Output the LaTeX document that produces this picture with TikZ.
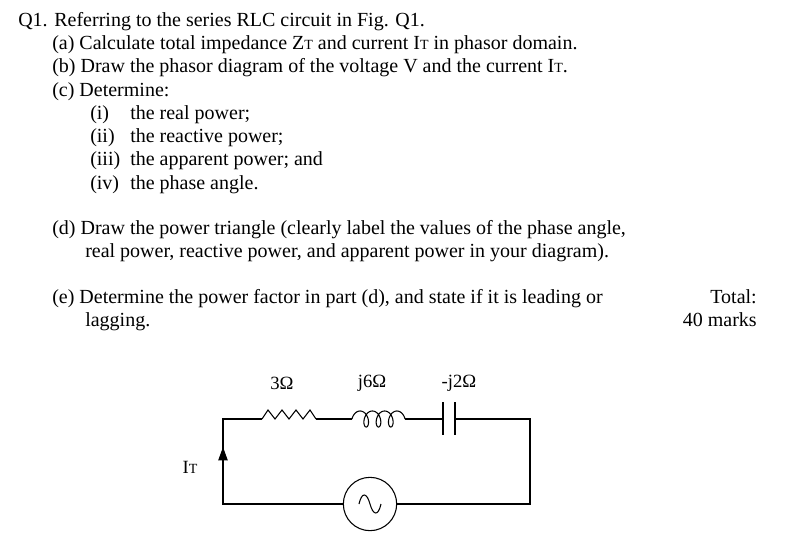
\documentclass[tikz,border=0pt]{standalone}
\usepackage{fontspec}
\setmainfont{Liberation Serif}
\usetikzlibrary{arrows.meta}
\newcommand{\sT}{{\fontsize{10.5}{10}\selectfont T}}
\begin{document}
\begin{tikzpicture}[x=0.75pt,y=-0.75pt,
  txt/.style={anchor=base west,inner sep=0pt,font=\fontsize{15}{17}\selectfont},
  txr/.style={anchor=base east,inner sep=0pt,font=\fontsize{15}{17}\selectfont},
  lab/.style={inner sep=0pt,font=\fontsize{14}{16}\selectfont},
  wire/.style={line width=0.8pt}]
\useasboundingbox (0,0) rectangle (791,535);
\node[txt] (l1) at (18,27) {Q1. Referring to the series RLC circuit in Fig. Q1.};
\node[txt] (l2) at (52,50) {(a) Calculate total impedance Z\sT{} and current I\sT{} in phasor domain.};
\node[txt] (l3) at (52,73) {(b) Draw the phasor diagram of the voltage V and the current I\sT.};
\node[txt] (l4) at (52,96) {(c) Determine:};
\node[txt] (i1) at (90,119) {(i)};   \node[txt] (t1) at (130,119) {the real power;};
\node[txt] (i2) at (90,142) {(ii)};  \node[txt] (t2) at (130,142) {the reactive power;};
\node[txt] (i3) at (90,165) {(iii)}; \node[txt] (t3) at (130,165) {the apparent power; and};
\node[txt] (i4) at (90,189) {(iv)};  \node[txt] (t4) at (130,189) {the phase angle.};
\node[txt] (d1) at (52,234) {(d) Draw the power triangle (clearly label the values of the phase angle,};
\node[txt] (d2) at (85,257) {real power, reactive power, and apparent power in your diagram).};
\node[txt] (e1) at (52,303) {(e) Determine the power factor in part (d), and state if it is leading or};
\node[txt] (e2) at (85,326) {lagging.};
\node[txr] (tot) at (757,303) {Total:};
\node[txr] (mk) at (757,326) {40 marks};
% circuit
\coordinate (tl) at (223,419);
\coordinate (bl) at (223,504);
\coordinate (tr) at (530,419);
\coordinate (br) at (530,504);
\coordinate (r1) at (262,419); \coordinate (r2) at (316,419);
\coordinate (i1c) at (352,419); \coordinate (i2c) at (405,419);
\coordinate (c1) at (443,419); \coordinate (c2) at (455,419);
\node[circle,draw,wire,minimum size=40pt,inner sep=0pt] (src) at (370,504) {};
\draw[wire] (src.west) -- (bl) -- (tl) -- (r1);
\draw[wire] (r1) -- (268,410) -- (275,419) -- (282,410) -- (289,419) -- (296,410) -- (303,419) -- (310,410) -- (316,419);
\draw[wire] (r2) -- (i1c);
\draw[wire] plot[domain=0:21.99,samples=240,variable=\t] ({352+1.955*\t+5*(1-cos(\t r))},{419-8*sin(\t r)});
\draw[wire] (i2c) -- (c1);
\draw[wire] (443,402) -- (443,435);
\draw[wire] (455,402) -- (455,435);
\draw[wire] (c2) -- (tr) -- (br) -- (src.east);
\draw[wire] (359,504) .. controls (362,491) and (367,493) .. (370,504) .. controls (373,515) and (378,517) .. (381,504);
\draw[-{Triangle[length=10pt,width=7pt]},wire] (223,470) -- (223,447);
\node[lab] (lr) at (282,383) {3Ω};
\node[lab] (li) at (372,383) {j6Ω};
\node[lab] (lc) at (459,383) {-j2Ω};
\node[lab] (lit) at (190,467) {I\sT};
\end{tikzpicture}
\end{document}
